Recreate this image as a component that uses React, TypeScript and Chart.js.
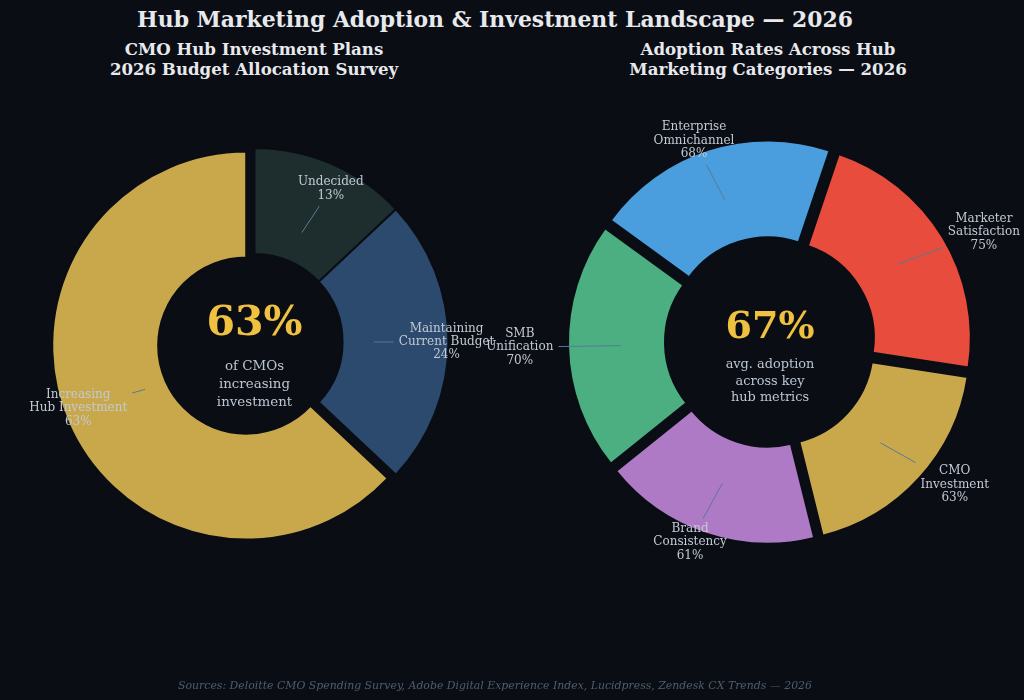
import React, { useEffect, useRef } from 'react';
import { Chart, registerables } from 'chart.js';

Chart.register(...registerables);

const BG = '#0a0d14';
const FONT = '"DejaVu Serif", serif';

// Left donut: CMO hub investment plans, clockwise from 12 o'clock
const investLabels = [['Undecided'], ['Maintaining', 'Current Budget'], ['Increasing', 'Hub Investment']];
const investShares = [13, 24, 63];
const investColors = ['#1e2e2e', '#2b4a6e', '#c9a84c'];
const investExplode = [0, 0, 9];

// Right donut: adoption rates by hub marketing category
const adoptionLabels = [
  ['Enterprise', 'Omnichannel'],
  ['Marketer', 'Satisfaction'],
  ['CMO', 'Investment'],
  ['Brand', 'Consistency'],
  ['SMB', 'Unification'],
];
const adoptionRates = [68, 75, 63, 61, 70];
const adoptionColors = ['#4a9edd', '#e74c3c', '#c9a84c', '#af7ac5', '#4caf82'];
const adoptionExplode = [8, 8, 8, 8, 8];

const avgAdoption = Math.round(adoptionRates.reduce((a, b) => a + b, 0) / adoptionRates.length);
const increasingShare = investShares[2];

type Decor = {
  labels: string[][];
  values: number[];
  explode: number[];
  lineStart: number;
  textKx: number;
  textKy: number;
  centerText: string;
  centerFont: number;
  centerBaseline: number;
  subLines: string[];
  subFont: number;
  subOffsets: number[];
};

function donutDecor(d: Decor) {
  return {
    id: 'donutDecor',
    // exploded slices: each arc is shifted outward along its mid-angle
    beforeDatasetDraw(chart: any, args: any) {
      const ctx = chart.ctx;
      args.meta.data.forEach((arc: any, i: number) => {
        const mid = (arc.startAngle + arc.endAngle) / 2;
        const e = d.explode[i] || 0;
        ctx.save();
        ctx.translate(Math.cos(mid) * e, Math.sin(mid) * e);
        arc.draw(ctx, chart.chartArea);
        ctx.restore();
      });
      return false;
    },
    // slice labels with leader lines, plus the headline figure in the hole
    afterDatasetsDraw(chart: any) {
      const ctx = chart.ctx;
      const arcs = chart.getDatasetMeta(0).data;
      const lineH = 13.3;
      ctx.save();
      ctx.font = `12px ${FONT}`;
      arcs.forEach((arc: any, i: number) => {
        const mid = (arc.startAngle + arc.endAngle) / 2;
        const R = arc.outerRadius;
        const c = Math.cos(mid);
        const s = Math.sin(mid);
        const tx = arc.x + d.textKx * R * c;
        const ty = arc.y + d.textKy * R * s;
        const sx = arc.x + d.lineStart * R * c;
        const sy = arc.y + d.lineStart * R * s;
        const lines = [...d.labels[i], `${d.values[i]}%`];
        const w = Math.max(...lines.map((l) => ctx.measureText(l).width));
        const h = lines.length * lineH;
        const dx = sx - tx;
        const dy = sy - ty;
        const t = Math.min(
          Math.abs(dx) > 1e-6 ? (w / 2 + 5) / Math.abs(dx) : Infinity,
          Math.abs(dy) > 1e-6 ? (h / 2 + 4) / Math.abs(dy) : Infinity
        );
        if (t < 1) {
          ctx.strokeStyle = '#5a7896';
          ctx.lineWidth = 1;
          ctx.beginPath();
          ctx.moveTo(sx, sy);
          ctx.lineTo(tx + dx * t, ty + dy * t);
          ctx.stroke();
        }
        ctx.fillStyle = '#c2cad4';
        ctx.textAlign = 'center';
        ctx.textBaseline = 'middle';
        lines.forEach((l, j) => {
          ctx.fillText(l, tx, ty + (j - (lines.length - 1) / 2) * lineH);
        });
      });
      const cx = arcs[0].x;
      const cy = arcs[0].y;
      ctx.textAlign = 'center';
      ctx.textBaseline = 'alphabetic';
      ctx.fillStyle = '#f0c040';
      ctx.font = `bold ${d.centerFont}px ${FONT}`;
      ctx.fillText(d.centerText, cx, cy + d.centerBaseline);
      ctx.fillStyle = '#bcc6d2';
      ctx.font = `${d.subFont}px ${FONT}`;
      ctx.textBaseline = 'middle';
      d.subLines.forEach((l, j) => ctx.fillText(l, cx, cy + d.subOffsets[j]));
      ctx.restore();
    },
  };
}

function makeConfig(
  labels: string[][],
  values: number[],
  colors: string[],
  rotation: number,
  cutout: string,
  padding: any,
  decor: Decor
): any {
  return {
    type: 'doughnut',
    data: {
      labels: labels.map((l) => l.join(' ')),
      datasets: [
        {
          data: values,
          backgroundColor: colors,
          borderColor: BG,
          borderWidth: 2,
        },
      ],
    },
    options: {
      responsive: false,
      animation: false,
      events: [],
      rotation,
      radius: 194,
      cutout,
      layout: { padding },
      plugins: { legend: { display: false }, tooltip: { enabled: false }, title: { display: false } },
    },
    plugins: [donutDecor(decor)],
  };
}

function DonutCanvas({ config }: { config: () => any }) {
  const ref = useRef<HTMLCanvasElement>(null);
  useEffect(() => {
    const chart = new Chart(ref.current as HTMLCanvasElement, config());
    return () => chart.destroy();
  }, []);
  return (
    <canvas
      ref={ref}
      width={1024}
      height={700}
      style={{ position: 'absolute', left: 0, top: 0, width: 1024, height: 700, pointerEvents: 'none' }}
    />
  );
}

const leftConfig = () =>
  makeConfig(investLabels, investShares, investColors, 0, '45.4%', { left: 0, right: 515, top: 0, bottom: 16 }, {
    labels: investLabels,
    values: investShares,
    explode: investExplode,
    lineStart: 0.615,
    textKx: 0.99,
    textKy: 0.86,
    centerText: `${increasingShare}%`,
    centerFont: 41,
    centerBaseline: -7,
    subLines: ['of CMOs', 'increasing', 'investment'],
    subFont: 13.4,
    subOffsets: [25, 43, 61],
  });

const rightConfig = () =>
  makeConfig(adoptionLabels, adoptionRates, adoptionColors, -54, '50%', { left: 516, right: 0, top: 0, bottom: 16 }, {
    labels: adoptionLabels,
    values: adoptionRates,
    explode: adoptionExplode,
    lineStart: 0.77,
    textKx: 1.29,
    textKy: 1.09,
    centerText: `${avgAdoption}%`,
    centerFont: 38,
    centerBaseline: -4,
    subLines: ['avg. adoption', 'across key', 'hub metrics'],
    subFont: 12.9,
    subOffsets: [23, 40, 56],
  });

export default function App() {
  const titleColor = '#e8e9ec';
  return (
    <div
      style={{
        position: 'fixed',
        left: 0,
        top: 0,
        width: 1024,
        height: 700,
        background: BG,
        overflow: 'hidden',
        fontFamily: FONT,
      }}
    >
      <div
        style={{
          position: 'absolute',
          left: 0,
          top: 7,
          width: 990,
          textAlign: 'center',
          fontWeight: 'bold',
          fontSize: 21.9,
          lineHeight: '24px',
          color: titleColor,
          whiteSpace: 'nowrap',
        }}
      >
        Hub Marketing Adoption &amp; Investment Landscape — 2026
      </div>
      <div
        style={{
          position: 'absolute',
          left: 0,
          top: 39,
          width: 508,
          textAlign: 'center',
          fontWeight: 'bold',
          fontSize: 16.6,
          lineHeight: '20px',
          color: titleColor,
        }}
      >
        CMO Hub Investment Plans
        <br />
        2026 Budget Allocation Survey
      </div>
      <div
        style={{
          position: 'absolute',
          left: 512,
          top: 39,
          width: 512,
          textAlign: 'center',
          fontWeight: 'bold',
          fontSize: 16.6,
          lineHeight: '20px',
          color: titleColor,
        }}
      >
        Adoption Rates Across Hub
        <br />
        Marketing Categories — 2026
      </div>
      <DonutCanvas config={leftConfig} />
      <DonutCanvas config={rightConfig} />
      <div
        style={{
          position: 'absolute',
          left: 0,
          top: 678,
          width: 990,
          textAlign: 'center',
          fontStyle: 'italic',
          fontSize: 10.9,
          lineHeight: '16px',
          color: '#4e5e6e',
          whiteSpace: 'nowrap',
        }}
      >
        Sources: Deloitte CMO Spending Survey, Adobe Digital Experience Index, Lucidpress, Zendesk CX Trends — 2026
      </div>
    </div>
  );
}
